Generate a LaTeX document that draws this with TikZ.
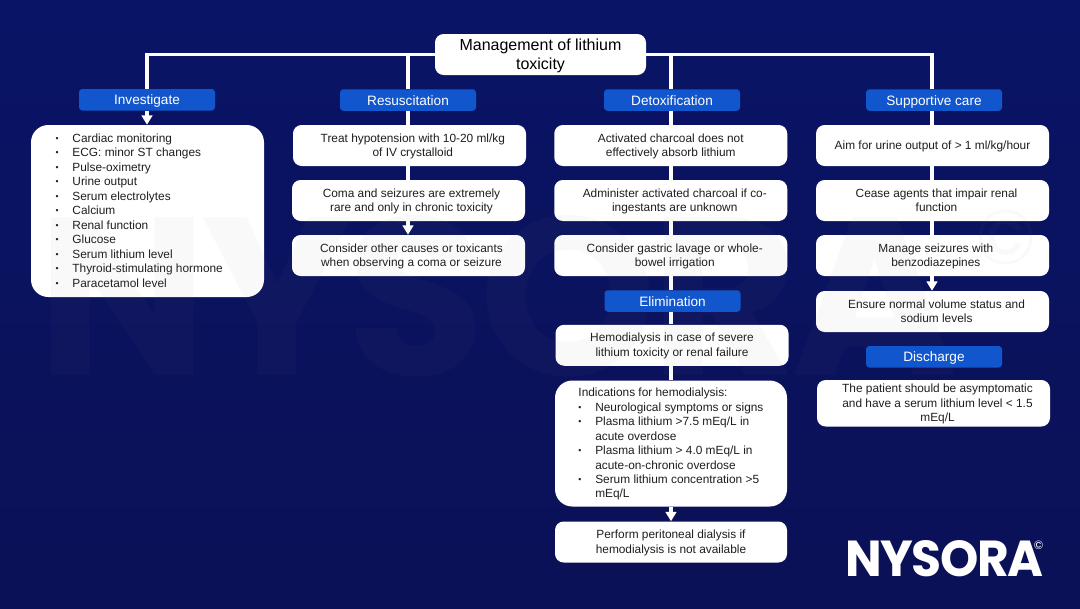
\documentclass[tikz,border=0pt]{standalone}
\usepackage{fontspec}
\usepackage{graphicx}
\setmainfont{Liberation Sans}
\newfontfamily\logofont{Poppins}[LetterSpace=-3]
\usetikzlibrary{arrows.meta,backgrounds}
\definecolor{navytop}{HTML}{0A1466}
\definecolor{navybot}{HTML}{0B1156}
\definecolor{headblue}{HTML}{1156CC}
\definecolor{inktext}{HTML}{1E1E1E}
\definecolor{wmgray}{HTML}{808080}
\newcommand\tl[3][0.7pt]{\hspace*{#2pt}\raisebox{-#1}[\height][\depth]{\begin{tabular}{@{}c@{}}#3\end{tabular}}}
\newcommand\blt{\raisebox{0.8pt}{\fontsize{6.5}{6.5}\selectfont\textbullet}}
\newcommand\leftlist[3]{\makebox[#1pt][l]{\hspace*{#2pt}\raisebox{-0.7pt}[\height][\depth]{\begin{tabular}{@{}p{12.6pt}@{}l@{}}#3\end{tabular}}}}
\tikzset{
  x=0.75pt,y=-0.75pt,
  sz/.style 2 args={minimum width=#1*0.75pt,minimum height=#2*0.75pt},
  wbox/.style={fill=white,rounded corners=6.5pt,inner sep=0pt,text=inktext,
    font=\fontsize{8.9}{10.85}\selectfont},
  bigbox/.style={wbox,rounded corners=13pt},
  headbox/.style={fill=headblue,rounded corners=2.5pt,inner sep=0pt,text=white,
    font=\fontsize{10.2}{12}\selectfont,sz={136}{21.5},text height=8pt,text depth=0.2pt},
  titlebox/.style={fill=white,rounded corners=6.5pt,inner sep=0pt,text=black,
    font=\fontsize{12}{14}\selectfont,sz={211}{41}},
  link/.style={draw=white,line width=2.3pt},
  linkarrow/.style={link,-{Triangle[length=7pt,width=8pt]}},
  mark wm/.style={text=wmgray,text opacity=0.045,inner sep=0pt},
}
\begin{document}
\begin{tikzpicture}
\useasboundingbox (0,0) rectangle (1080,608);
\coordinate (xinv) at (147,0);
\coordinate (xres) at (408,0);
\coordinate (xdet) at (671,0);
\coordinate (xsup) at (932,0);

\node[titlebox] (title) at (540.5,54.5) {\tl[1.5pt]{0}{Management of lithium\\toxicity}};

\node[bigbox,sz={233}{172}] (inv) at (147.5,211) {\leftlist{174.75}{18.5}{
\blt&Cardiac monitoring\\ \blt&ECG: minor ST changes\\ \blt&Pulse-oximetry\\ \blt&Urine output\\
\blt&Serum electrolytes\\ \blt&Calcium\\ \blt&Renal function\\ \blt&Glucose\\
\blt&Serum lithium level\\ \blt&Thyroid-stimulating hormone\\ \blt&Paracetamol level}};

\node[wbox,sz={233}{41}] (res1) at (409.5,145.5) {\tl{5}{Treat hypotension with 10-20 ml/kg\\of IV crystalloid}};
\node[wbox,sz={233}{41}] (res2) at (408.5,200.5) {\tl{4.5}{Coma and seizures are extremely\\rare and only in chronic toxicity}};
\node[wbox,sz={233}{41}] (res3) at (408.5,255.5) {\tl{4.5}{Consider other causes or toxicants\\when observing a coma or seizure}};

\node[wbox,sz={233}{41}] (det1) at (670.75,145.5) {\tl{0}{Activated charcoal does not\\effectively absorb lithium}};
\node[wbox,sz={233}{41}] (det2) at (670.75,200.5) {\tl{6}{Administer activated charcoal if co-\\ingestants are unknown}};
\node[wbox,sz={233}{41}] (det3) at (670.75,255.5) {\tl{6}{Consider gastric lavage or whole-\\bowel irrigation}};
\node[wbox,sz={233}{41}] (hemo) at (672,345.25) {\tl{0}{Hemodialysis in case of severe\\lithium toxicity or renal failure}};
\node[bigbox,sz={232}{126}] (ind) at (671,443.5) {\leftlist{174}{17.6}{
\multicolumn{2}{@{}l@{}}{Indications for hemodialysis:}\\
\blt&Neurological symptoms or signs\\
\blt&Plasma lithium >7.5 mEq/L in\\
&acute overdose\\
\blt&Plasma lithium > 4.0 mEq/L in\\
&acute-on-chronic overdose\\
\blt&Serum lithium concentration >5\\
&mEq/L}};
\node[wbox,sz={232}{41}] (peri) at (671,542) {\tl{0}{Perform peritoneal dialysis if\\hemodialysis is not available}};

\node[wbox,sz={233}{41}] (sup1) at (932.5,145.5) {\tl{0}{Aim for urine output of > 1 ml/kg/hour}};
\node[wbox,sz={233}{41}] (sup2) at (932.5,200.5) {\tl{6}{Cease agents that impair renal\\function}};
\node[wbox,sz={233}{41}] (sup3) at (932.5,255.5) {\tl{5}{Manage seizures with\\benzodiazepines}};
\node[wbox,sz={233}{41}] (sup4) at (932.5,311.5) {\tl{6}{Ensure normal volume status and\\sodium levels}};
\node[wbox,sz={233}{46.5}] (pat) at (933.5,403.25) {\tl{6}{The patient should be asymptomatic\\and have a serum lithium level < 1.5\\mEq/L}};

% faint watermark over the boxes
\node[mark wm] (wmname) at (498,296.5) {\resizebox{690pt}{120pt}{\logofont\bfseries NYSORA}};
\node[mark wm,font=\fontsize{58}{58}\selectfont\logofont] (wmcopy) at (1006,238) {©};

\node[headbox] (hinv) at (147,99.75) {Investigate};
\node[headbox] (hres) at (408,100) {Resuscitation};
\node[headbox] (hdet) at (672,100) {Detoxification};
\node[headbox] (hsup) at (934,100) {Supportive care};
\node[headbox] (helim) at (672.5,301) {Elimination};
\node[headbox] (hdis) at (934,356.75) {Discharge};

\node[inner sep=0pt,text=white,anchor=base west] (logo) at (845,576) {\resizebox{148.5pt}{27pt}{\logofont\bfseries NYSORA}};
\node[inner sep=0pt,text=white,font=\fontsize{9}{9}\selectfont\logofont] (logocopy) at (1038.5,545) {©};

\begin{scope}[on background layer]
  \shade[top color=navytop,bottom color=navybot] (0,0) rectangle (1080,608);
  \draw[link] (title.west) -| (xinv |- hinv.north);
  \draw[link] (title.west -| xres) -- (xres |- hres.north);
  \draw[link] (title.east -| xdet) -- (xdet |- hdet.north);
  \draw[link] (title.east) -| (xsup |- hsup.north);
  \draw[linkarrow] (xinv |- hinv.south) -- (xinv |- inv.north);
  \draw[link] (xres |- hres.south) -- (xres |- res1.north);
  \draw[link] (xres |- res1.south) -- (xres |- res2.north);
  \draw[linkarrow] (xres |- res2.south) -- (xres |- res3.north);
  \draw[link] (xdet |- hdet.south) -- (xdet |- det1.north);
  \draw[link] (xdet |- det1.south) -- (xdet |- det2.north);
  \draw[link] (xdet |- det2.south) -- (xdet |- det3.north);
  \draw[link] (xdet |- det3.south) -- (xdet |- helim.north);
  \draw[link] (xdet |- helim.south) -- (xdet |- hemo.north);
  \draw[link] (xdet |- hemo.south) -- (xdet |- ind.north);
  \draw[linkarrow] (xdet |- ind.south) -- (xdet |- peri.north);
  \draw[link] (xsup |- hsup.south) -- (xsup |- sup1.north);
  \draw[link] (xsup |- sup1.south) -- (xsup |- sup2.north);
  \draw[link] (xsup |- sup2.south) -- (xsup |- sup3.north);
  \draw[linkarrow] (xsup |- sup3.south) -- (xsup |- sup4.north);
\end{scope}
\end{tikzpicture}
\end{document}
